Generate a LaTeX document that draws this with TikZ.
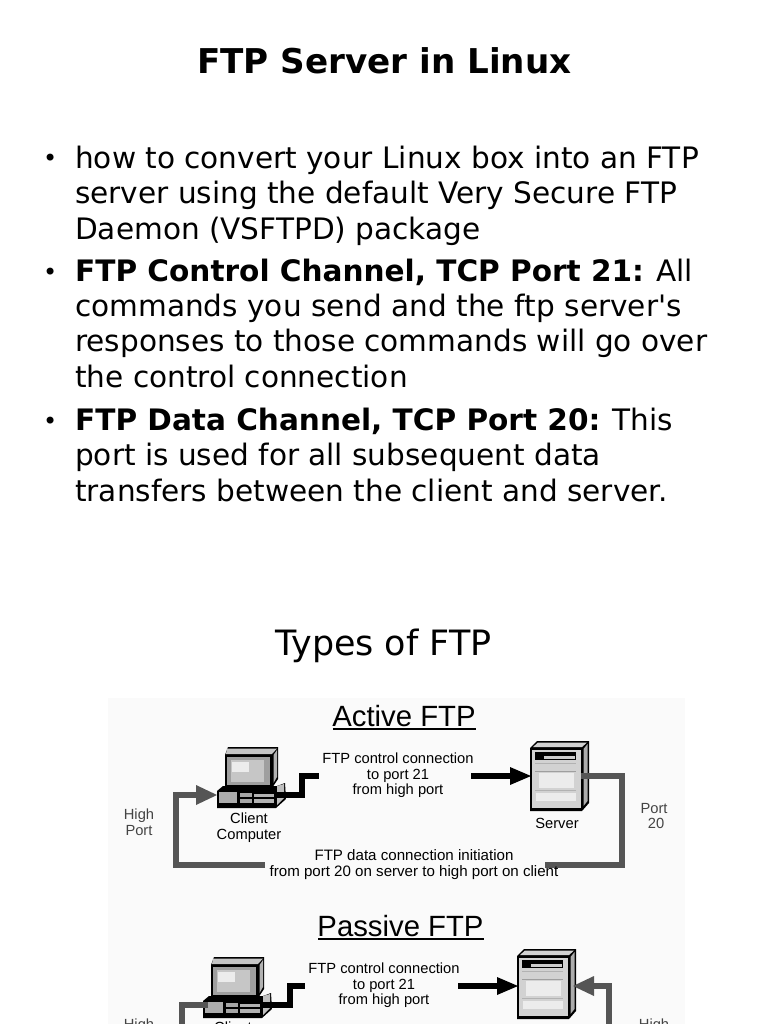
\documentclass[tikz,border=0pt]{standalone}
\usepackage{fontspec}
\setmainfont{DejaVu Sans}
\newfontfamily\plainq{DejaVu Sans}[Ligatures=NoCommon]
\newfontfamily\figfont{Liberation Sans}
\usetikzlibrary{arrows.meta}
\definecolor{imgbg}{HTML}{FAFAFA}
\definecolor{lineGray}{HTML}{555555}
\definecolor{labelGray}{HTML}{444444}
\tikzset{
  x=1pt,y=-1pt,
  bodyline/.style={anchor=base west,inner sep=0pt,font=\fontsize{29.55}{31}\selectfont},
  bulletmark/.style={anchor=base west,inner sep=0pt,font=\fontsize{24}{26}\selectfont},
  figtext/.style={align=center,inner sep=0pt,font=\figfont\fontsize{14.7}{15.6}\selectfont},
  figdata/.style={figtext,font=\figfont\fontsize{15.1}{16}\selectfont},
  figgray/.style={figtext,text=labelGray},
  figtitle/.style={anchor=base,inner sep=0pt,font=\figfont\fontsize{29.3}{31}\selectfont},
  ctrl/.style={draw=black,line width=6pt,line join=miter},
  ctrlarrow/.style={ctrl,-{Triangle[length=21pt,width=18pt,line width=0pt]}},
  datal/.style={draw=lineGray,line width=6pt,line join=miter},
  dataarrow/.style={datal,-{Triangle[length=21pt,width=20pt,line width=0pt]}},
  pics/pcbox/.style={code={
    \fill[black] (8,8)--(11,0)--(61,0)--(61,32)--(55,41)--(8,41)--cycle;
    \fill[gray!45] (10,1.5)--(60,1.5)--(55,7)--(9,7)--cycle;
    \fill[gray!60] (56.5,8)--(60,3)--(60,30)--(56.5,36)--cycle;
    \fill[gray!75] (10,10)--(53,10)--(53,38)--(10,38)--cycle;
    \fill[gray!45] (14,13)--(47,13)--(47,35)--(14,35)--cycle;
    \fill[gray!15] (15,15)--(32,15)--(32,25)--(15,25)--cycle;
    \fill[black] (0,44)--(6,39)--(60,39)--(68,36)--(69,52)--(59,61)--(0,61)--cycle;
    \fill[gray!50] (60,39)--(67,37)--(67,51)--(60,58)--cycle;
    \fill[gray!65] (2,45)--(20,45)--(20,56)--(2,56)--cycle;
    \fill[gray!70] (23,46)--(35,46)--(35,50)--(23,50)--cycle;
    \fill[gray!70] (23,52)--(35,52)--(35,56)--(23,56)--cycle;
    \fill[gray!60] (37,47)--(57,47)--(57,50)--(37,50)--cycle;
    \fill[gray!60] (37,52)--(57,52)--(57,56)--(37,56)--cycle;
  }},
  pics/srvbox/.style={code={
    \fill[black] (0,7)--(7,0)--(59,0)--(59,62)--(52,70)--(0,70)--cycle;
    \fill[gray!35] (3,6)--(8,1.5)--(57,1.5)--(52,6)--cycle;
    \fill[gray!65] (53.5,8)--(57.5,3)--(57.5,60)--(53.5,65)--cycle;
    \fill[gray!35] (1.5,9)--(51,9)--(51,67)--(1.5,67)--cycle;
    \fill[black] (5,11)--(46,11)--(46,19)--(5,19)--cycle;
    \fill[gray!40] (14,15)--(45,15)--(45,18)--(14,18)--cycle;
    \fill[gray!60] (5,21.5)--(46,21.5)--(46,22.5)--(5,22.5)--cycle;
    \fill[gray!75] (5,29.5)--(46,29.5)--(46,30.5)--(5,30.5)--cycle;
    \fill[gray!15] (9,32)--(44,32)--(44,47)--(9,47)--cycle;
    \fill[gray!60] (5,49)--(46,49)--(46,50)--(5,50)--cycle;
    \fill[gray!15] (6,52)--(46,52)--(46,60)--(6,60)--cycle;
  }}
}
\begin{document}
\begin{tikzpicture}
\useasboundingbox (0,0) rectangle (768,1024);
\clip (0,0) rectangle (768,1024);
\fill[white] (0,0) rectangle (768,1024);
\node[anchor=base,inner sep=0pt,font=\bfseries\fontsize{34.15}{36}\selectfont] (title) at (384.5,73.7) {FTP Server in Linux};

\node[bulletmark] (b1) at (43,167) {•};
\node[bodyline] (l1) at (75,168.7) {how to convert your Linux box into an FTP};
\node[bodyline] (l2) at (75,203.7) {server using the default Very Secure FTP};
\node[bodyline] (l3) at (75,239.7) {Daemon (VSFTPD) package};
\node[bulletmark] (b2) at (43,280) {•};
\node[bodyline] (l4) at (75,281.7) {\textbf{FTP Control Channel, TCP Port 21:} All};
\node[bodyline] (l5) at (75,316.7) {commands you send and the f\kern0pt tp server{\plainq\char"0027}s};
\node[bodyline] (l6) at (75,351.7) {responses to those commands will go over};
\node[bodyline] (l7) at (75,387.7) {the control connection};
\node[bulletmark] (b3) at (43,429) {•};
\node[bodyline] (l8) at (75,430.7) {\textbf{FTP Data Channel, TCP Port 20:} This};
\node[bodyline] (l9) at (75,465.7) {port is used for all subsequent data};
\node[bodyline] (l10) at (75,501.7) {transfers between the client and server.};

\node[anchor=base,inner sep=0pt,font=\fontsize{34.9}{36}\selectfont] (types) at (383.5,655) {Types of FTP};

\fill[imgbg] (108,698) rectangle (685,1024);

% Active FTP
\node[figtitle] (atitle) at (404,726) {Active FTP};
\draw[black,line width=2pt] (333,729) -- (476,729);
\pic at (217,747) {pcbox};
\pic at (530,741) {srvbox};
\coordinate (apcr) at (277,795);
\coordinate (apcl) at (217,795);
\coordinate (asrvl) at (531,776);
\coordinate (asrvr) at (581,776);
\coordinate (actlA) at (302,795);
\coordinate (actlB) at (302,776);
\coordinate (actlC) at (319,776);
\coordinate (actlD) at (471,776);
\coordinate (adatA) at (622,776);
\coordinate (adatB) at (622,865);
\coordinate (adatC) at (545,865);
\coordinate (adatD) at (265,865);
\coordinate (adatE) at (176,865);
\coordinate (adatF) at (176,795);
\draw[ctrl] (apcr) -- (actlA) -- (actlB) -- (actlC);
\draw[ctrlarrow] (actlD) -- (asrvl);
\draw[datal] (asrvr) -- (adatA) -- (adatB) -- (adatC);
\draw[dataarrow] (adatD) -- (adatE) -- (adatF) -- (apcl);
\node[figtext] (actext) at (398,775.5) {FTP control connection\\to port 21\\from high port};
\node[figdata] (adtext) at (414,865) {FTP data connection initiation\\from port 20 on server to high port on client};
\node[figtext] (apcname) at (249,827.5) {Client\\Computer};
\node[figtext] (asrvname) at (557,823) {Server};
\node[figgray] (ahigh) at (139,822) {High\\Port};
\node[figgray] (aport) at (654,816) {Port\\\phantom{.}20};

% Passive FTP
\node[figtitle] (ptitle) at (400.5,936) {Passive FTP};
\draw[black,line width=2pt] (318,939) -- (484,939);
\pic at (203,957) {pcbox};
\pic at (517,949) {srvbox};
\coordinate (ppcr) at (263,1005);
\coordinate (ppcl) at (208,1005);
\coordinate (psrvl) at (518,986);
\coordinate (psrvr) at (573,986);
\coordinate (pctlA) at (290,1005);
\coordinate (pctlB) at (290,986);
\coordinate (pctlC) at (305,986);
\coordinate (pctlD) at (458,986);
\coordinate (pdatA) at (182,1005);
\coordinate (pdatB) at (182,1040);
\coordinate (pdatC) at (609,986);
\coordinate (pdatD) at (609,1040);
\draw[ctrl] (ppcr) -- (pctlA) -- (pctlB) -- (pctlC);
\draw[ctrlarrow] (pctlD) -- (psrvl);
\draw[datal] (ppcl) -- (pdatA) -- (pdatB);
\draw[dataarrow] (pdatD) -- (pdatC) -- (psrvr);
\node[figtext] (pctext) at (384,985.5) {FTP control connection\\to port 21\\from high port};
\node[figtext,anchor=base] (ppcname) at (233,1032) {Client};
\node[figgray,anchor=base] (phigh) at (139,1029) {High};
\node[figgray,anchor=base] (phigh2) at (654,1029) {High};
\end{tikzpicture}
\end{document}
